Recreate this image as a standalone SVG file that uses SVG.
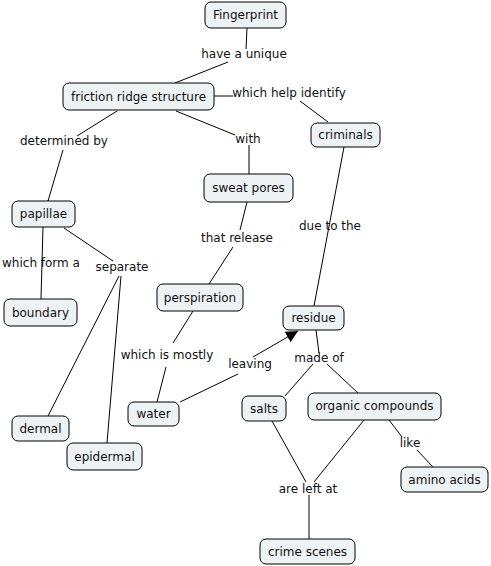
<svg xmlns="http://www.w3.org/2000/svg" width="491" height="566" viewBox="0 0 491 566">
<style>
.n rect{fill:#edf2f4;stroke:#000;stroke-width:1}
text{font-family:"DejaVu Sans",Verdana,sans-serif;font-size:12px;fill:#111;text-anchor:middle;dominant-baseline:central}
.c line{stroke:#000;stroke-width:1;fill:none}
</style>
<defs>
<marker id="ah" viewBox="0 0 10 10" refX="10" refY="5" markerWidth="12" markerHeight="12" markerUnits="userSpaceOnUse" orient="auto">
<path d="M0,0 L10,5 L0,10 z" fill="#000"/>
</marker>
</defs>
<rect width="491" height="566" fill="#fff"/>
<g class="c" id="connectors">
<line x1="247" y1="28" x2="246" y2="49"/>
<line x1="228" y1="62" x2="175" y2="83"/>
<line x1="214" y1="96" x2="233" y2="96"/>
<line x1="300" y1="101" x2="328" y2="122"/>
<line x1="117" y1="111" x2="77" y2="136"/>
<line x1="63" y1="150" x2="48" y2="201"/>
<line x1="176" y1="111" x2="235" y2="135"/>
<line x1="249" y1="145" x2="249" y2="174"/>
<line x1="344" y1="147" x2="314" y2="306"/>
<line x1="43" y1="227" x2="41" y2="299"/>
<line x1="64" y1="228" x2="113" y2="261"/>
<line x1="119" y1="276" x2="48" y2="416"/>
<line x1="121" y1="276" x2="107" y2="443"/>
<line x1="247" y1="202" x2="240" y2="230"/>
<line x1="233" y1="247" x2="209" y2="284"/>
<line x1="193" y1="311" x2="173" y2="343"/>
<line x1="166" y1="367" x2="157" y2="402"/>
<line x1="180" y1="402" x2="238" y2="374"/>
<line x1="253" y1="357" x2="298" y2="331" marker-end="url(#ah)"/>
<line x1="316" y1="330" x2="319" y2="353"/>
<line x1="313" y1="364" x2="285" y2="396"/>
<line x1="327" y1="364" x2="358" y2="393"/>
<line x1="389" y1="420" x2="402" y2="437"/>
<line x1="417" y1="450" x2="433" y2="467"/>
<line x1="272" y1="421" x2="306" y2="482"/>
<line x1="364" y1="420" x2="314" y2="482"/>
<line x1="309" y1="495" x2="309" y2="539"/>
</g>
<g id="labels">
<text x="244" y="54">have a unique</text>
<text x="289" y="93">which help identify</text>
<text x="64" y="141">determined by</text>
<text x="248" y="139">with</text>
<text x="330" y="226">due to the</text>
<text x="41" y="263">which form a</text>
<text x="122" y="267">separate</text>
<text x="237" y="238">that release</text>
<text x="167" y="355">which is mostly</text>
<text x="250" y="364">leaving</text>
<text x="319" y="358">made of</text>
<text x="410" y="443">like</text>
<text x="308" y="489">are left at</text>
</g>
<g class="n" id="fingerprint"><rect x="205" y="2" width="81" height="26" rx="6"/><text x="245.5" y="15">Fingerprint</text></g>
<g class="n" id="friction"><rect x="63" y="83" width="151" height="27" rx="6"/><text x="138.5" y="96.5">friction ridge structure</text></g>
<g class="n" id="criminals"><rect x="311" y="123" width="69" height="24" rx="6"/><text x="345.5" y="135">criminals</text></g>
<g class="n" id="sweat"><rect x="204" y="174" width="89" height="28" rx="6"/><text x="248.5" y="188">sweat pores</text></g>
<g class="n" id="papillae"><rect x="12" y="201" width="63" height="26" rx="6"/><text x="43.5" y="214">papillae</text></g>
<g class="n" id="boundary"><rect x="4" y="299" width="73" height="27" rx="6"/><text x="40.5" y="312.5">boundary</text></g>
<g class="n" id="perspiration"><rect x="157" y="284" width="86" height="27" rx="6"/><text x="200" y="297.5">perspiration</text></g>
<g class="n" id="residue"><rect x="283" y="306" width="61" height="24" rx="6"/><text x="313.5" y="318">residue</text></g>
<g class="n" id="water"><rect x="128" y="402" width="51" height="24" rx="6"/><text x="153.5" y="414">water</text></g>
<g class="n" id="dermal"><rect x="12" y="416" width="57" height="25" rx="6"/><text x="40.5" y="428.5">dermal</text></g>
<g class="n" id="epidermal"><rect x="67" y="443" width="75" height="27" rx="6"/><text x="104.5" y="456.5">epidermal</text></g>
<g class="n" id="salts"><rect x="242" y="396" width="44" height="25" rx="6"/><text x="264" y="408.5">salts</text></g>
<g class="n" id="organic"><rect x="308" y="393" width="133" height="27" rx="6"/><text x="374.5" y="406">organic compounds</text></g>
<g class="n" id="amino"><rect x="401" y="467" width="87" height="25" rx="6"/><text x="444.5" y="479.5">amino acids</text></g>
<g class="n" id="crime"><rect x="260" y="539" width="95" height="25" rx="6"/><text x="307.5" y="551.5">crime scenes</text></g>
</svg>
